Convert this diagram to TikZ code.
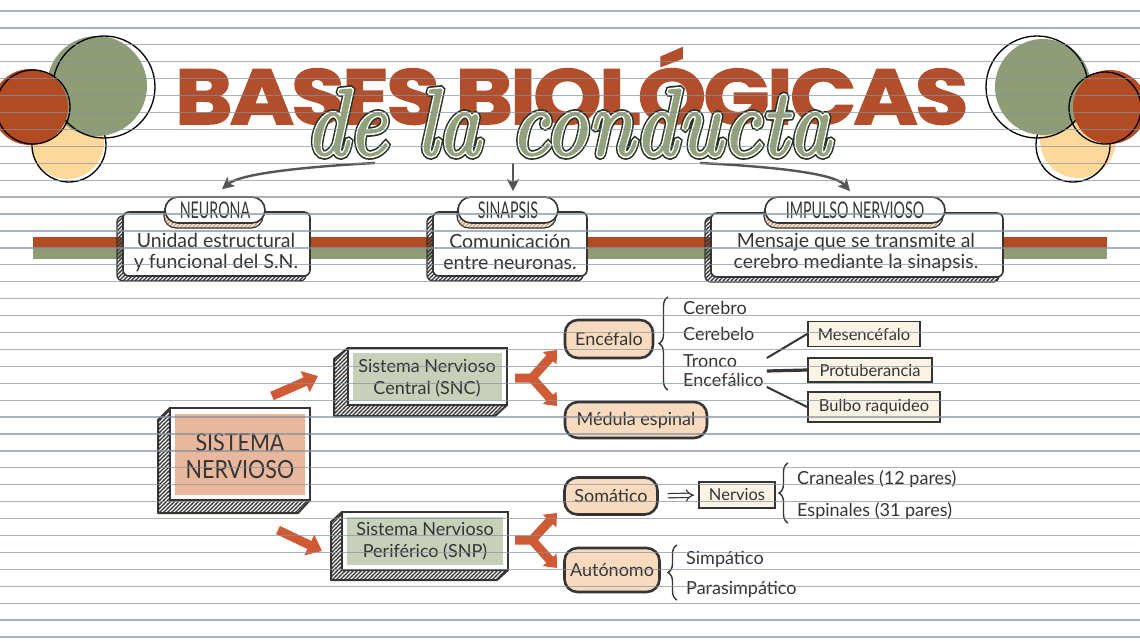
\documentclass[tikz,border=0pt]{standalone}
\usepackage{fontspec}
\setmainfont{Lato}
\newfontfamily\titlefont{Poppins}[LetterSpace=-3, FakeBold=2]
\newfontfamily\scrdark{lmroman10-italic.otf}[FakeBold=8]
\newfontfamily\scrwhite{lmroman10-italic.otf}[FakeBold=4.5]
\newfontfamily\scrgreen{lmroman10-italic.otf}[FakeBold=1.2]
\usetikzlibrary{arrows.meta,patterns,decorations.pathreplacing,calc}
\definecolor{rust}{HTML}{B34B22}
\definecolor{sage}{HTML}{8E9D76}
\definecolor{sun}{HTML}{FCD89B}
\definecolor{ink}{HTML}{353535}
\definecolor{rulec}{RGB}{132,146,161}
\definecolor{salmon}{HTML}{E8B79C}
\definecolor{sagelt}{HTML}{C9D0BA}
\definecolor{peach}{HTML}{F8DABF}
\definecolor{cream}{HTML}{FBF3E3}
\definecolor{arrowor}{HTML}{D05A33}
\definecolor{tanc}{HTML}{D29A66}
\definecolor{grayarr}{HTML}{555555}
\definecolor{titlerust}{HTML}{B24E2B}
\definecolor{scriptgreen}{HTML}{93A27C}
\definecolor{scriptdark}{HTML}{26301F}
\pgfdeclarepatternformonly{hatch}{\pgfqpoint{-1pt}{-1pt}}{\pgfqpoint{5pt}{5pt}}{\pgfqpoint{4pt}{4pt}}{%
  \pgfsetlinewidth{1.1pt}\pgfpathmoveto{\pgfqpoint{-0.2pt}{-0.2pt}}\pgfpathlineto{\pgfqpoint{4.2pt}{4.2pt}}\pgfusepath{stroke}}
\newcommand\dlc[1]{\resizebox{525pt}{66pt}{#1de la conducta}}
\newcommand\tabtxt[1]{\scalebox{0.62}[1]{\fontsize{23}{23}\selectfont #1}}
\begin{document}
\begin{tikzpicture}[x=1pt,y=-1pt,
  txt/.style={text=ink, font=\fontsize{19.5}{21}\selectfont, align=center, inner sep=0pt},
  sys/.style={text=ink, font=\fontsize{18}{22}\selectfont, align=center, inner sep=0pt},
  item/.style={text=ink, font=\fontsize{18}{19}\selectfont, anchor=west, inner sep=0pt, align=left},
  pill/.style={draw=ink, line width=2.6pt, fill=peach, rounded corners=13pt, text=ink, font=\fontsize{18}{21}\selectfont, inner sep=0pt},
  smallbox/.style={draw=ink, line width=1.8pt, fill=cream, text=ink, font=\fontsize{16.5}{20}\selectfont, inner sep=0pt},
  grayarrow/.style={draw=grayarr, line width=2.4pt, -{Stealth[length=12pt,width=12pt,inset=3pt]}},
  orarrow/.style={draw=arrowor, line width=9pt, -{Triangle[length=14pt,width=22pt]}},
  fork/.style={draw=arrowor, line width=9pt, line join=miter, -{Triangle[length=11pt,width=18pt]}},
  brc/.style={draw=ink, line width=1.4pt, decorate, decoration={brace, amplitude=9pt}},
  conn/.style={draw=ink, line width=2pt},
  boxshadow/.style={draw=ink, line width=1.3pt, pattern=hatch, pattern color=ink, rounded corners=6pt},
  boxface/.style={draw=ink, line width=1.6pt, fill=white, rounded corners=6pt},
  tabshadow/.style={draw=ink, line width=1.2pt, pattern=hatch, pattern color=tanc, rounded corners=12pt},
  tab/.style={draw=ink, line width=1.6pt, fill=white, rounded corners=13pt, text=ink, inner sep=0pt, minimum height=26pt},
  slabedge/.style={draw=ink, line width=2pt, pattern=hatch, pattern color=ink, line join=round},
  face/.style={draw=ink, line width=2.6pt, fill=white},
  scr/.style={anchor=base west, inner sep=0pt},
  ring/.style={black, line width=1.3pt}
]
\useasboundingbox (0,0) rectangle (1140,640);
\fill[white] (0,0) rectangle (1140,640);

% decorative circles left
\fill[sun] (67,142) circle[radius=37pt];
\draw[ring] (69,145) circle[radius=37pt];
\fill[sage] (97,86) circle[radius=50pt];
\draw[ring] (104,87) circle[radius=51pt];
\fill[rust] (30,107) circle[radius=38pt];
\draw[ring] (33,107) circle[radius=37pt];
% decorative circles right
\fill[sun] (1078,140) circle[radius=38pt];
\draw[ring] (1073,145) circle[radius=37pt];
\fill[sage] (1043,87) circle[radius=48pt];
\draw[ring] (1037,87) circle[radius=51pt];
\fill[rust] (1110,107) circle[radius=37pt];
\draw[ring] (1105,108) circle[radius=36pt];

% title
\node[anchor=base west, inner sep=0pt, text=titlerust] (title) at (175,124)
  {\resizebox{793pt}{76pt}{\titlefont\bfseries BASES BIOLÓGICAS}};
\coordinate (sc) at (305,155);
\node[scr, text=scriptdark] (subtitleback) at (sc) {\dlc{\scrdark}};
\node[scr, text=white] (subtitlemid) at (sc) {\dlc{\scrwhite}};
\node[scr, text=scriptgreen] (subtitle) at (sc) {\dlc{\scrgreen}};

% bands
\fill[rust] (33,237) rectangle (1107,248);
\fill[sage] (33,248) rectangle (1107,259);

% top boxes
\path[boxshadow] (117,216) rectangle (306,281);
\path[boxface] (123,212) rectangle (310,276);
\path[boxshadow] (427,216) rectangle (583,281);
\path[boxface] (433,212) rectangle (587,276);
\path[boxshadow] (705,217) rectangle (999,282);
\path[boxface] (711,213) rectangle (1003,277);
\node[txt] (neurona) at (216,252) {Unidad estructural\\y funcional del S.N.};
\node[txt] (sinapsis) at (510,252) {Comunicación\\entre neuronas.};
\node[txt] (impulso) at (856,252) {Mensaje que se transmite al\\cerebro mediante la sinapsis.};

% tabs
\path[tabshadow] (164,201) rectangle (263,228);
\node[tab, minimum width=100pt] (tab1) at (215,210) {\tabtxt{NEURONA}};
\path[tabshadow] (457,201) rectangle (556,228);
\node[tab, minimum width=100pt] (tab2) at (508,210) {\tabtxt{SINAPSIS}};
\path[tabshadow] (764,201) rectangle (943,228);
\node[tab, minimum width=180pt] (tab3) at (855,210) {\tabtxt{IMPULSO NERVIOSO}};

% arrows from title
\coordinate (t1) at (375,163);
\coordinate (t2) at (513,163);
\coordinate (t3) at (700,163);
\draw[grayarrow] (t1) .. controls (300,167) and (240,174) .. ([xshift=7pt,yshift=7pt]tab1.north);
\draw[grayarrow] (t2) -- ([xshift=5pt,yshift=5pt]tab2.north);
\draw[grayarrow] (t3) .. controls (780,167) and (835,174) .. ([xshift=-5pt,yshift=5pt]tab3.north);

% SISTEMA NERVIOSO
\path[slabedge] (170,408) -- (158,420) -- (158,513) -- (298,513) -- (310,500) -- (170,500) -- cycle;
\path[face] (170,408) rectangle (310,500);
\fill[salmon] (175,414) rectangle (305,495);
\node[text=ink, font=\fontsize{25}{27}\selectfont, align=center, inner sep=0pt] (sn) at (240,456) {\scalebox{0.86}[1]{SISTEMA}\\\scalebox{0.86}[1]{NERVIOSO}};

% SNC
\path[slabedge] (348,348) -- (334,359) -- (334,416) -- (495,416) -- (507,405) -- (348,405) -- cycle;
\path[face] (348,348) rectangle (507,405);
\fill[sagelt] (353,353) rectangle (502,400);
\node[sys] (snc) at (427,378) {Sistema Nervioso\\Central (SNC)};

% SNP
\path[slabedge] (342,512) -- (331,522) -- (331,580) -- (497,580) -- (508,570) -- (342,570) -- cycle;
\path[face] (342,512) rectangle (508,570);
\fill[sagelt] (347,517) rectangle (503,565);
\node[sys] (snp) at (425,541) {Sistema Nervioso\\Periférico (SNP)};

% orange arrows
\coordinate (o1s) at (272,396);
\coordinate (o1e) at (318,376);
\coordinate (o2s) at (278,530);
\coordinate (o2e) at (322,551);
\draw[orarrow] (o1s) -- (o1e);
\draw[orarrow] (o2s) -- (o2e);
\coordinate (f1s) at (515,378);
\coordinate (f1m) at (532,378);
\coordinate (f1a) at (557,350);
\coordinate (f1b) at (557,406);
\draw[fork] (f1s) -- (f1m) -- (f1a);
\draw[fork] (f1m) -- (f1b);
\coordinate (f2s) at (515,540);
\coordinate (f2m) at (532,540);
\coordinate (f2a) at (557,513);
\coordinate (f2b) at (557,568);
\draw[fork] (f2s) -- (f2m) -- (f2a);
\draw[fork] (f2m) -- (f2b);

% pills
\node[pill, minimum width=88pt, minimum height=38pt] (encefalo) at (609,339) {Encéfalo};
\node[pill, minimum width=142pt, minimum height=36pt] (medula) at (636,420) {Médula espinal};
\node[pill, minimum width=93pt, minimum height=37pt] (somatico) at (611,496) {Somático};
\node[pill, minimum width=95pt, minimum height=44pt] (autonomo) at (612,570) {Autónomo};

% encefalo brace and items
\draw[brc] (668,390) -- (668,297);
\node[item] (cerebro) at (683,308) {Cerebro};
\node[item] (cerebelo) at (683,334) {Cerebelo};
\node[item] (tronco) at (683,371) {Tronco\\Encefálico};

\node[smallbox, minimum width=112pt, minimum height=25pt] (meso) at (864,334) {Mesencéfalo};
\node[smallbox, minimum width=124pt, minimum height=24pt] (protu) at (870,370) {Protuberancia};
\node[smallbox, minimum width=132pt, minimum height=30pt] (bulbo) at (874,407) {Bulbo raquideo};
\draw[conn] ([xshift=3pt,yshift=13pt]tronco.east) -- (meso.west);
\draw[conn, line width=3.2pt] ([xshift=3pt]tronco.east) -- (protu.west);
\draw[conn] ([xshift=3pt,yshift=-16pt]tronco.east) -- (bulbo.west);

% somatico
\node[smallbox, minimum width=76pt, minimum height=26pt] (nervios) at (737,495) {Nervios};
\draw[draw=ink, line width=1.2pt, double, double distance=3pt, -{Implies}, shorten <=9pt, shorten >=4pt] (somatico.east) -- (nervios.west);
\draw[brc] (788,523) -- (788,463);
\node[item] (craneales) at (797,479) {Craneales (12 pares)};
\node[item] (espinales) at (797,511) {Espinales (31 pares)};

% autonomo
\draw[brc] (677,600) -- (677,545);
\node[item] (simpatico) at (686,559) {Simpático};
\node[item] (parasimpatico) at (686,589) {Parasimpático};

% ruled paper lines
\foreach \k in {0,...,37} {
  \pgfmathsetmacro\yy{11+16.92*\k}
  \draw[rulec, opacity=0.7, line width=1.3pt] (0,\yy) -- (1140,\yy);
}
\end{tikzpicture}
\end{document}
